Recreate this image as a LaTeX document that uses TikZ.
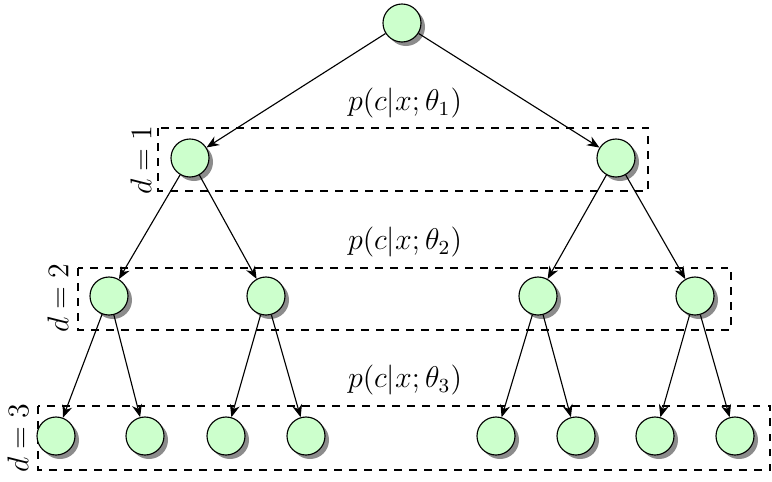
\documentclass[tikz,border=0pt]{standalone}
\usetikzlibrary{shadows,arrows.meta}
\begin{document}
\begin{tikzpicture}[x=0.4pt,y=-0.4pt,
  nd/.style={circle,draw,line width=0.45pt,fill={rgb,255:red,204;green,255;blue,204},minimum size=15.2pt,inner sep=0pt,drop shadow={shadow xshift=1.6pt,shadow yshift=-1.6pt,fill=black!45,opacity=1}},
  ar/.style={-{Stealth[length=5pt,width=4pt]},line width=0.45pt},
  bx/.style={draw,dashed,line width=0.45pt},
  every node/.append style={font=\large}]
\useasboundingbox (0,0) rectangle (772,481);
\draw[bx] (158,128) rectangle (648,191);
\draw[bx] (78,268) rectangle (731,330);
\draw[bx] (38,406) rectangle (770,470);
\node[rotate=90] (d1) at (141,160) {$d=1$};
\node[rotate=90] (d2) at (58,298) {$d=2$};
\node[rotate=90] (d3) at (18,438) {$d=3$};
\node (t1) at (405,103) {$p(c|x;\theta_1)$};
\node (t2) at (405,242) {$p(c|x;\theta_2)$};
\node (t3) at (405,380) {$p(c|x;\theta_3)$};
\node[nd] (r) at (402,23) {};
\node[nd] (a) at (190,158) {};
\node[nd] (b) at (616,158) {};
\node[nd] (a1) at (109,296) {};
\node[nd] (a2) at (266,296) {};
\node[nd] (b1) at (538,296) {};
\node[nd] (b2) at (695,296) {};
\foreach \n/\x in {c1/56,c2/145,c3/226,c4/306,c5/496,c6/576,c7/655,c8/735}
  \node[nd] (\n) at (\x,436) {};
\draw[ar] (r) -- (a); \draw[ar] (r) -- (b);
\draw[ar] (a) -- (a1); \draw[ar] (a) -- (a2);
\draw[ar] (b) -- (b1); \draw[ar] (b) -- (b2);
\draw[ar] (a1) -- (c1); \draw[ar] (a1) -- (c2);
\draw[ar] (a2) -- (c3); \draw[ar] (a2) -- (c4);
\draw[ar] (b1) -- (c5); \draw[ar] (b1) -- (c6);
\draw[ar] (b2) -- (c7); \draw[ar] (b2) -- (c8);
\end{tikzpicture}
\end{document}
